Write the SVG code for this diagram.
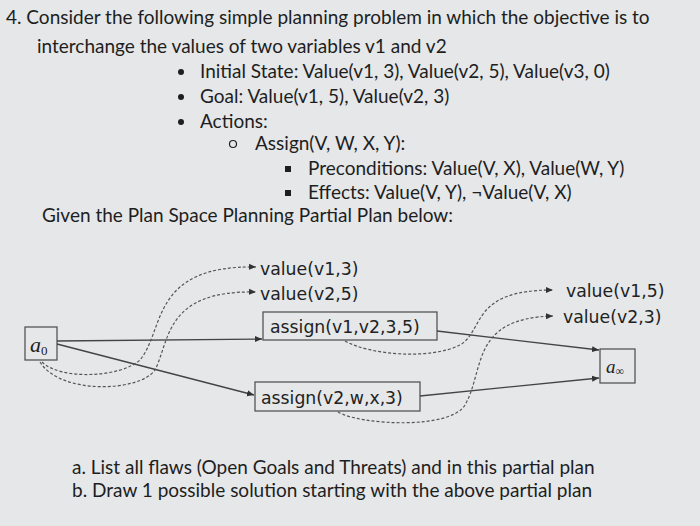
<svg xmlns="http://www.w3.org/2000/svg" width="700" height="526" viewBox="0 0 700 526">
<defs>
<style>
.t{font-family:Lato,"Open Sans",sans-serif;font-size:19px;fill:#1e1e1e}
.d{font-family:"DejaVu Sans",Verdana,sans-serif;font-size:17.3px;fill:#222}
.box{fill:none;stroke:#555;stroke-width:1.3}
.ln{fill:none;stroke:#444;stroke-width:1.3;marker-end:url(#ah)}
.ds{fill:none;stroke:#555;stroke-width:1.2;stroke-dasharray:3 2;marker-end:url(#ah)}
</style>
<marker id="ah" markerWidth="8" markerHeight="8" refX="7" refY="4" orient="auto" markerUnits="userSpaceOnUse"><path d="M0,1 L7,4 L0,7z" fill="#333"/></marker>
</defs>
<rect width="700" height="526" fill="#e5e7e9"/>
<g id="question">
<text class="t" x="6" y="24">4. Consider the following simple planning problem in which the objective is to</text>
<text class="t" x="37" y="53">interchange the values of two variables v1 and v2</text>
<circle cx="181" cy="72" r="3" fill="#1e1e1e"/><text class="t" x="200" y="78">Initial State: Value(v1, 3), Value(v2, 5), Value(v3, 0)</text>
<circle cx="181" cy="97" r="3" fill="#1e1e1e"/><text class="t" x="200" y="103">Goal: Value(v1, 5), Value(v2, 3)</text>
<circle cx="181" cy="122" r="3" fill="#1e1e1e"/><text class="t" x="200" y="128">Actions:</text>
<circle cx="233" cy="144" r="3.5" fill="none" stroke="#1e1e1e" stroke-width="1.2"/><text class="t" x="255" y="150">Assign(V, W, X, Y):</text>
<rect x="285" y="166" width="6" height="6" fill="#1e1e1e"/><text class="t" x="308" y="175">Preconditions: Value(V, X), Value(W, Y)</text>
<rect x="285" y="190" width="6" height="6" fill="#1e1e1e"/><text class="t" x="308" y="199">Effects: Value(V, Y), ¬Value(V, X)</text>
<text class="t" x="42" y="222">Given the Plan Space Planning Partial Plan below:</text>
</g>
<g id="a0"><rect class="box" x="25" y="327" width="32" height="33"/><text x="30" y="352" font-family="Liberation Serif,serif" font-style="italic" font-size="22" fill="#222">a<tspan font-size="13" dy="3" font-style="normal">0</tspan></text></g>
<g id="ainf"><rect class="box" x="600" y="349" width="35" height="34"/><text x="606" y="373" font-family="Liberation Serif,serif" font-style="italic" font-size="19" fill="#222">a<tspan font-size="12" dy="2" font-style="normal">∞</tspan></text></g>
<g id="v13"><text class="d" x="260" y="275">value(v1,3)</text></g>
<g id="v25"><text class="d" x="260" y="300">value(v2,5)</text></g>
<g id="assign1"><rect class="box" x="263" y="312" width="174" height="28"/><text class="d" x="270" y="333">assign(v1,v2,3,5)</text></g>
<g id="assign2"><rect class="box" x="255" y="382" width="165" height="29"/><text class="d" x="261" y="404">assign(v2,w,x,3)</text></g>
<g id="v15"><text class="d" x="566" y="297">value(v1,5)</text></g>
<g id="v23"><text class="d" x="563" y="323">value(v2,3)</text></g>
<g id="connectors">
<path class="ln" d="M57,341 L262,339"/>
<path class="ln" d="M57,344 L254,395"/>
<path class="ln" d="M437,331 L599,350"/>
<path class="ln" d="M420,396 L599,378"/>
<path class="ds" d="M42,362 C60,380 120,378 140,360 C165,330 150,265 256,267"/>
<path class="ds" d="M40,362 C60,395 140,392 155,370 C170,340 165,290 256,292"/>
<path class="ds" d="M345,341 C370,355 430,360 460,345 C485,330 470,290 553,290"/>
<path class="ds" d="M338,412 C360,425 450,430 465,405 C485,370 470,318 553,316"/>
</g>
<g id="tasks">
<text class="t" x="72" y="474">a.  List all flaws (Open Goals and Threats) and in this partial plan</text>
<text class="t" x="72" y="497">b.  Draw 1 possible solution starting with the above partial plan</text>
</g>
</svg>
